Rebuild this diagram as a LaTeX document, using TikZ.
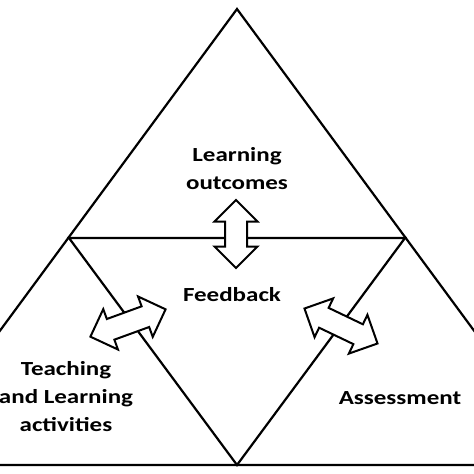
\documentclass[tikz,border=0pt]{standalone}
\usepackage{fontspec}
\setmainfont{Carlito}
\usetikzlibrary{shapes.arrows,positioning}
\tikzstyle{edge}=[line width=2.2pt, line join=miter]
\tikzstyle{dblarrow}=[double arrow, draw, fill=white, line width=2pt,
                      double arrow head extend=10.5pt,
                      inner xsep=0pt, inner ysep=10pt]
\tikzstyle{txt}=[font=\bfseries\fontsize{20}{28}\selectfont,
                 align=center, xscale=1.25]

\begin{document}
\begin{tikzpicture}[x=1pt,y=-1pt]
    \useasboundingbox (0,0) rectangle (474,474);
    \clip (0,0) rectangle (474,474);

    % corners of the two triangles
    \coordinate (top) at (237,9);
    \coordinate (bl) at (-99,465);
    \coordinate (br) at (573,465);
    \coordinate (ml) at (69,238);
    \coordinate (mr) at (405,238);
    \coordinate (bm) at (237,465);

    \draw [edge] (top) -- (bl) -- (br) -- cycle;
    \draw [edge] (ml) -- (mr) -- (bm) -- cycle;

    % double arrows
    \node (upar) [dblarrow, minimum height=68pt, rotate=90] at (236,234) {};
    \node (leftar) [dblarrow, minimum height=80pt, rotate=20] at (128,323) {};
    \node (rightar) [dblarrow, minimum height=81pt, rotate=-25.6] at (341,326) {};

    % texts
    \node (outc) [txt] at (237,169) {Learning\\outcomes};
    \node (feed) [txt] at (232,295) {Feedback};
    \node (teach) [txt] at (66,397) {Teaching\\and Learning\\activities};
    \node (assess) [txt] at (400,398) {Assessment};
\end{tikzpicture}
\end{document}
